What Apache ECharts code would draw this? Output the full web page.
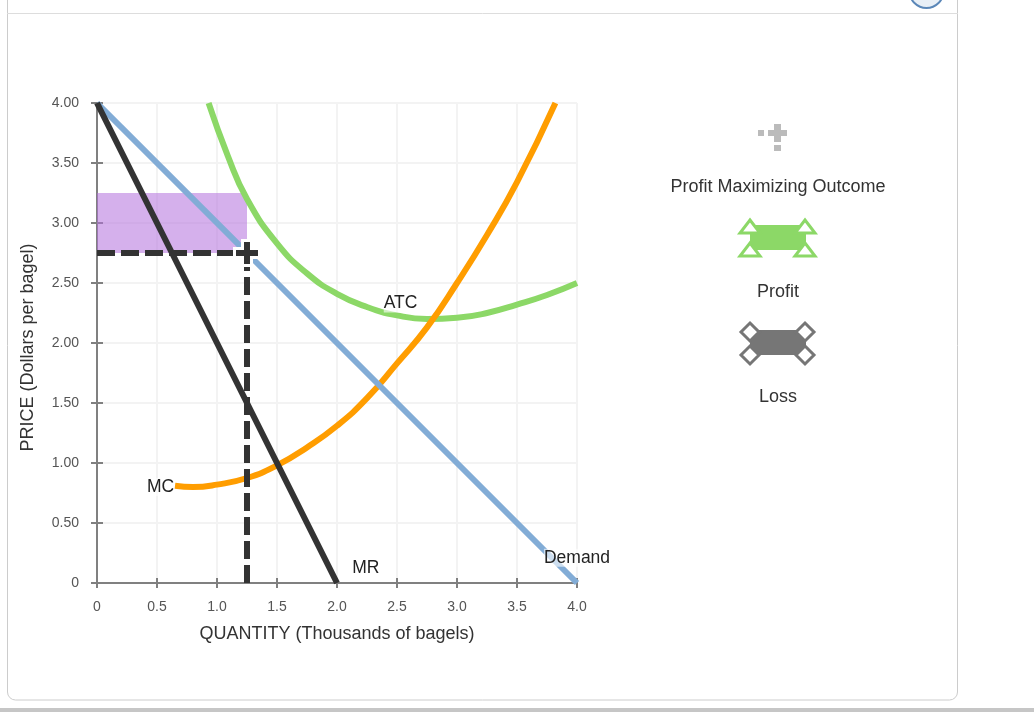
<!DOCTYPE html>
<html>
<head>
    <meta charset="utf-8">
    <title>Monopoly profit</title>
    <style>
        html, body { margin: 0; padding: 0; background: #fff; }
        #main { width: 1034px; height: 712px; }
    </style>
</head>
<body>
    <div id="main"></div>

    <script src="https://cdn.jsdelivr.net/npm/echarts@6/dist/echarts.min.js"></script>
    <script type="text/javascript">
        var xTicks = ['0', '0.5', '1.0', '1.5', '2.0', '2.5', '3.0', '3.5', '4.0'];
        var yTicks = ['0', '0.50', '1.00', '1.50', '2.00', '2.50', '3.00', '3.50', '4.00'];

        // [quantity, price]
        var demandUpper = [[0, 4], [1.206, 2.794]];
        var demandLower = [[1.3, 2.7], [4, 0]];
        var mr = [[0, 4], [2, 0]];
        var mc = [[0.65, 0.81], [0.8, 0.8], [1.0, 0.82], [1.25, 0.875], [1.5, 0.98], [1.75, 1.13], [2.0, 1.31], [2.25, 1.54],
                  [2.5, 1.83], [2.75, 2.13], [3.0, 2.5], [3.25, 2.9], [3.5, 3.34], [3.82, 4.0]];
        var atc = [[0.93, 4.0], [1.09, 3.56], [1.25, 3.2], [1.5, 2.83], [1.75, 2.58], [2.0, 2.41],
                   [2.25, 2.3], [2.5, 2.23], [2.75, 2.2], [3.0, 2.21], [3.25, 2.25], [3.5, 2.32], [3.75, 2.4], [4.0, 2.5]];
        var profitBox = [[0, 3.25], [1.25, 2.75]];
        var dropY = [[1.25, 0], [1.25, 2.75]];
        var dropX = [[0, 2.75], [1.25, 2.75]];
        var outcome = [[1.25, 2.75]];
        var curveLabels = [
            { name: 'MC', value: [0.53, 0.8] },
            { name: 'ATC', value: [2.53, 2.33] },
            { name: 'MR', value: [2.24, 0.125] },
            { name: 'Demand', value: [4.0, 0.21] }
        ];

        var font = '"Liberation Sans", Arial, sans-serif';
        var textColor = '#333';
        var plus = 'path://M8,0 H14 V8 H22 V14 H14 V22 H8 V14 H0 V8 H8 Z';
        var plusHalo = 'path://M8,0 H20 V8 H28 V20 H20 V28 H8 V20 H0 V8 H8 Z';

        function lineSeries(data, color, smooth) {
            return {
                type: 'line', data: data, showSymbol: false, smooth: smooth ? 0.5 : false,
                silent: true, z: 3, lineStyle: { color: color, width: 6, cap: 'butt' }
            };
        }
        function dashSeries(data) {
            return {
                type: 'line', data: data, showSymbol: false, silent: true, z: 4,
                lineStyle: { color: '#333', width: 6, type: [18, 6], cap: 'butt' }
            };
        }
        function marker(x, y, w, h) {
            return { type: 'rect', shape: { x: x, y: y, width: w, height: h }, style: { fill: '#bbb' } };
        }
        function triangle(cx, topY) {
            return {
                type: 'polygon', shape: { points: [[cx, topY], [cx + 10, topY + 13], [cx - 10, topY + 13]] },
                style: { fill: '#fff', stroke: '#8cd867', lineWidth: 3 }
            };
        }
        function diamond(cx, cy) {
            return {
                type: 'polygon', shape: { points: [[cx, cy - 9], [cx + 9, cy], [cx, cy + 9], [cx - 9, cy]] },
                style: { fill: '#fff', stroke: '#767676', lineWidth: 3 }
            };
        }
        function caption(text, y) {
            return {
                type: 'text', x: 778, y: y,
                style: { text: text, font: '18px ' + font, fill: textColor, align: 'center', verticalAlign: 'middle' }
            };
        }

        var myChart = echarts.init(document.getElementById('main'));
        var option = {
            animation: false,
            backgroundColor: '#fff',
            textStyle: { fontFamily: font },
            grid: { left: 97, top: 103, width: 480, height: 480 },
            xAxis: [{
                type: 'value', min: 0, max: 4, interval: 0.5, name: 'QUANTITY (Thousands of bagels)',
                nameLocation: 'middle', nameGap: 42,
                nameTextStyle: { fontSize: 18, color: textColor, fontFamily: font },
                axisLine: { lineStyle: { color: '#808080', width: 2 } },
                axisTick: { show: true, length: 5, lineStyle: { color: '#808080', width: 2 } },
                axisLabel: { fontSize: 14, color: '#555', margin: 17, fontFamily: font, showMinLabel: true, showMaxLabel: true,
                    formatter: function (v) { return xTicks[Math.round(v / 0.5)]; } },
                splitLine: { show: true, lineStyle: { color: '#f3f3f3', width: 2 } }
            }, {
                type: 'value', min: 0, max: 4, interval: 0.5, position: 'bottom',
                axisLine: { show: false }, axisLabel: { show: false }, splitLine: { show: false },
                axisTick: { show: true, inside: true, length: 5, lineStyle: { color: '#808080', width: 2 } }
            }],
            yAxis: [{
                type: 'value', min: 0, max: 4, interval: 0.5, name: 'PRICE (Dollars per bagel)',
                nameLocation: 'middle', nameGap: 60,
                nameTextStyle: { fontSize: 18, color: textColor, fontFamily: font, padding: [0, 9, 0, 0] },
                axisLine: { lineStyle: { color: '#808080', width: 2 } },
                axisTick: { show: true, length: 6, lineStyle: { color: '#808080', width: 2 } },
                axisLabel: { fontSize: 14, color: '#555', margin: 18, fontFamily: font, showMinLabel: true, showMaxLabel: true,
                    formatter: function (v) { return yTicks[Math.round(v / 0.5)]; } },
                splitLine: { show: true, lineStyle: { color: '#f3f3f3', width: 2 } }
            }, {
                type: 'value', min: 0, max: 4, interval: 0.5, position: 'left',
                axisLine: { show: false }, axisLabel: { show: false }, splitLine: { show: false },
                axisTick: { show: true, inside: true, length: 6, lineStyle: { color: '#808080', width: 2 } }
            }],
            series: [
                {
                    type: 'line', data: [], silent: true, z: 2,
                    markArea: {
                        silent: true,
                        itemStyle: { color: 'rgba(179,111,220,0.55)' },
                        data: [[{ coord: profitBox[0] }, { coord: profitBox[1] }]]
                    }
                },
                lineSeries(atc, '#8cd867', true),
                lineSeries(mc, '#ff9d00', true),
                lineSeries(demandUpper, '#82acd6', false),
                lineSeries(demandLower, '#82acd6', false),
                lineSeries(mr, '#333', false),
                dashSeries(dropX),
                dashSeries(dropY),
                {
                    type: 'scatter', data: outcome, symbol: plusHalo, symbolSize: 28, silent: true, z: 5,
                    itemStyle: { color: '#fff', opacity: 1 }
                },
                {
                    type: 'scatter', data: outcome, symbol: plus, symbolSize: 22, silent: true, z: 6,
                    itemStyle: { color: '#333', opacity: 1 }
                },
                {
                    type: 'scatter', data: curveLabels, symbolSize: 0, silent: true, z: 7, clip: false,
                    itemStyle: { opacity: 1 },
                    label: { show: true, position: 'inside', formatter: '{b}', fontSize: 17.5, color: '#222', opacity: 1, fontFamily: font,
                        backgroundColor: 'rgba(255,255,255,0.6)' }
                }
            ],
            graphic: [
                // page frame
                { type: 'rect', shape: { x: 7.5, y: -20, width: 950, height: 720, r: 8 }, style: { fill: 'none', stroke: '#ccc', lineWidth: 1 } },
                { type: 'line', shape: { x1: 7, y1: 13.5, x2: 958, y2: 13.5 }, style: { stroke: '#ddd', lineWidth: 1 } },
                { type: 'rect', shape: { x: 0, y: 708, width: 1034, height: 4 }, style: { fill: '#c6c6c6' } },
                { type: 'circle', shape: { cx: 926.5, cy: -9, r: 17 }, style: { fill: '#e8eff6', stroke: '#5b87b8', lineWidth: 2 } },
                // palette: outcome marker
                marker(758, 130, 6, 6), marker(768, 130, 19, 6), marker(774, 124, 7, 18), marker(774, 145, 7, 6),
                caption('Profit Maximizing Outcome', 187),
                // palette: profit
                { type: 'rect', shape: { x: 750, y: 225, width: 56, height: 25 }, style: { fill: '#8cd867' } },
                triangle(750, 220), triangle(805, 220), triangle(750, 243), triangle(805, 243),
                caption('Profit', 292),
                // palette: loss
                { type: 'rect', shape: { x: 750, y: 330, width: 56, height: 25 }, style: { fill: '#767676' } },
                diamond(750, 332), diamond(805, 332), diamond(750, 355), diamond(805, 355),
                caption('Loss', 397)
            ]
        };
        myChart.setOption(option);
    </script>
</body>
</html>
